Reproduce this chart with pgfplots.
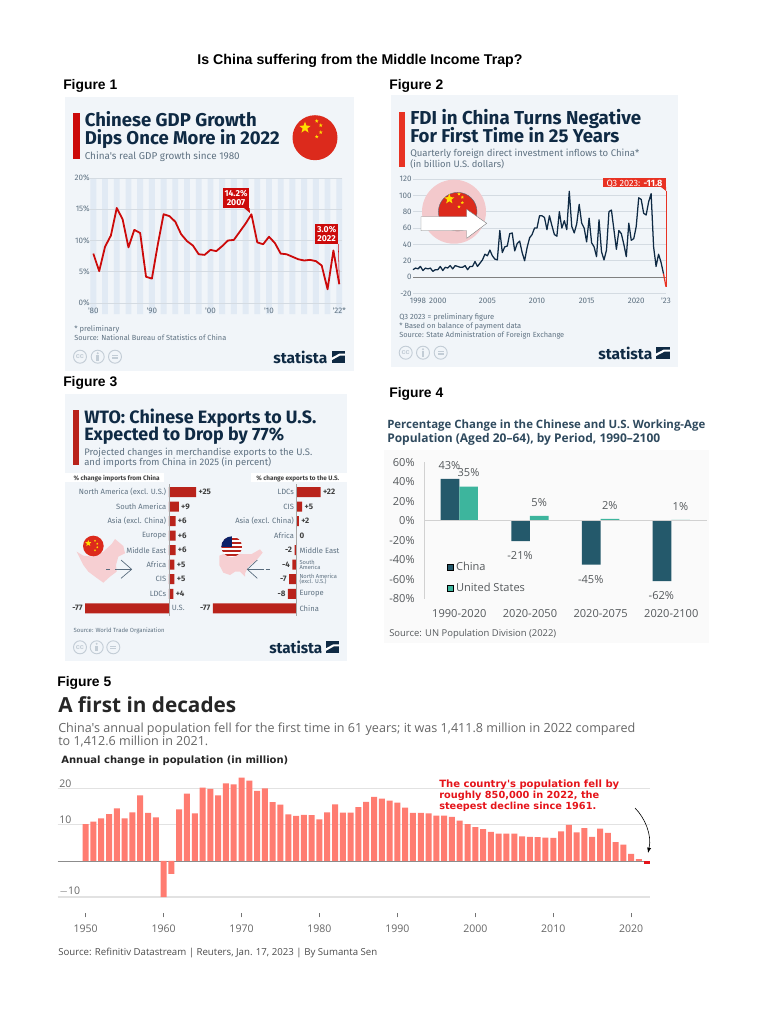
\documentclass[border=0pt]{standalone}
\usepackage{pgfplots}
\pgfplotsset{compat=1.18}
\usepackage{graphicx}
\usepackage{fontspec}
\usetikzlibrary{shapes.geometric,arrows.meta}
\setmainfont{Liberation Sans}
\newfontfamily\fira{Fira Sans}
\newfontfamily\deja{DejaVu Sans}
\newfontfamily\lato{Lato}
\newfontfamily\opens{Open Sans}
\definecolor{panel}{HTML}{F1F5F9}
\definecolor{stripe}{HTML}{E1EAF4}
\definecolor{navy}{HTML}{0F2A44}
\definecolor{sgray}{HTML}{5F7282}
\definecolor{sgrid}{HTML}{D4DBE2}
\definecolor{red1}{HTML}{CC0A0A}
\definecolor{red2}{HTML}{E83223}
\definecolor{red3}{HTML}{B9231B}
\definecolor{flagred}{HTML}{DC2A1C}
\definecolor{ystar}{HTML}{FFDE00}
\definecolor{pinkc}{HTML}{F3C9CC}
\definecolor{mappink}{HTML}{F6CFD2}
\definecolor{ccg}{HTML}{C3CDD6}
\definecolor{teal1}{HTML}{24596B}
\definecolor{teal2}{HTML}{3DB59D}
\definecolor{txt4}{HTML}{55595C}
\definecolor{title4}{HTML}{2F4A5E}
\definecolor{salmon}{HTML}{FF7C71}
\definecolor{red5}{HTML}{E5141A}
\definecolor{grid5}{HTML}{E2E2E2}
\definecolor{txt5}{HTML}{666666}
\newcommand{\fs}[1]{\fontsize{#1}{#1}\selectfont}
\tikzset{
  lab/.style={font=\fira\fs{5.7},text=sgray,inner sep=0pt},
  val/.style={font=\fira\bfseries\fs{6},text=black!75,inner sep=0pt},
  smalllab/.style={font=\fira\fs{4.3},text=sgray,inner sep=0pt,align=left},
  vfour/.style={font=\opens\fs{8.3},text=txt4,inner sep=0pt},
  bigstar/.style={star,star points=5,star point ratio=2.4,fill=ystar,inner sep=0pt,minimum size=#1}
}
% x, y (reference pixels), anchor, width in pixels, colour, text
\newcommand{\T}[6]{\node[anchor=#3,inner sep=0pt,text=#5] at (#1,#2) {\resizebox{\dimexpr #4pt*3/4\relax}{!}{#6}};}
\newcommand{\cc}[4]{%
  \draw[ccg,line width=.7pt] (#1,#4) circle (6.5);
  \draw[ccg,line width=.7pt] (#2,#4) circle (6.5);
  \draw[ccg,line width=.7pt] (#3,#4) circle (6.5);
  \node[text=ccg,inner sep=0pt] at (#1,#4) {\fs{5.5}\bfseries cc};
  \fill[ccg] (#2,#4-3.5) circle (1.1);
  \fill[ccg] (#2-1.3,#4-1.8) rectangle (#2+1.3,#4+4);
  \fill[ccg] (#3-3,#4-1.6) rectangle (#3+3,#4-.5);
  \fill[ccg] (#3-3,#4+.7) rectangle (#3+3,#4+1.8);
}
\newcommand{\stat}[5]{% left, width, logo left, logo width, y
  \node[anchor=base west,inner sep=0pt,text=navy] at (#1,#5+6.3) {\resizebox{\dimexpr #2pt*3/4\relax}{9.3pt}{\fira\bfseries statista}};
  \fill[navy] (#3,#5-6) rectangle (#3+#4,#5+6);
  \fill[white] (#3,#5+1) -- (#3+#4*.55,#5-3) -- (#3+#4,#5-3) -- (#3+#4,#5-1) -- (#3+#4*.6,#5-1) -- (#3,#5+3.5) -- cycle;
}
\begin{document}
\begin{tikzpicture}[x=.75pt,y=-.75pt]
\fill[white] (0,0) rectangle (768,1024);
\useasboundingbox (0,0) rectangle (768,1024);
% headings
\T{360}{60.5}{mid}{325}{black}{\bfseries Is China suffering from the Middle Income Trap?}
\T{63}{86}{mid west}{54}{black}{\bfseries Figure 1}
\T{389}{86}{mid west}{54}{black}{\bfseries Figure 2}
\T{63}{383}{mid west}{54}{black}{\bfseries Figure 3}
\T{389}{393.5}{mid west}{54}{black}{\bfseries Figure 4}
\T{57}{682.5}{mid west}{54}{black}{\bfseries Figure 5}

% ============ FIGURE 1
\fill[panel] (65,97) rectangle (354,371);
\fill[red1] (73.3,113) rectangle (80,159);
\T{84.5}{123}{mid west}{172}{navy}{\fira\bfseries Chinese GDP Growth}
\T{84.5}{140.7}{mid west}{195}{navy}{\fira\bfseries Dips Once More in 2022}
\T{84.5}{155.7}{mid west}{155}{sgray}{\fira China's real GDP growth since 1980}
\fill[flagred] (315,137.7) circle (22.5);
\node[bigstar=9pt] at (305,127.7) {};
\foreach \a/\b in {316.7/121,320.7/125.3,320.7/132.3,316.7/136.7}
  \node[bigstar=3pt] at (\a,\b) {};
\coordinate (f1) at (90.4,303);
\begin{axis}[at={(f1)},anchor=south west,scale only axis,width=188.85pt,height=93.75pt,
  xmin=1979.5,xmax=2022.5,ymin=0,ymax=20,clip=false,hide axis]
\addplot[ybar,bar width=4.39pt,bar shift=0pt,draw=none,fill=stripe] coordinates {(1980,20)(1982,20)(1984,20)(1986,20)(1988,20)(1990,20)(1992,20)(1994,20)(1996,20)(1998,20)(2000,20)(2002,20)(2004,20)(2006,20)(2008,20)(2010,20)(2012,20)(2014,20)(2016,20)(2018,20)(2020,20)(2022,20)};
\addplot[ybar,bar width=4.39pt,bar shift=0pt,draw=none,fill=stripe] coordinates {(1980,-1.76)(1982,-1.76)(1984,-1.76)(1986,-1.76)(1988,-1.76)(1990,-1.76)(1992,-1.76)(1994,-1.76)(1996,-1.76)(1998,-1.76)(2000,-1.76)(2002,-1.76)(2004,-1.76)(2006,-1.76)(2008,-1.76)(2010,-1.76)(2012,-1.76)(2014,-1.76)(2016,-1.76)(2018,-1.76)(2020,-1.76)(2022,-1.76)};
\end{axis}
\begin{axis}[at={(f1)},anchor=south west,scale only axis,width=188.85pt,height=93.75pt,
  xmin=1979.5,xmax=2022.5,ymin=0,ymax=20,clip=false,
  axis line style={draw=none},major tick length=0pt,
  ytick={0,5,10,15,20},yticklabels={0\%,5\%,10\%,15\%,20\%},
  xtick={1980,1990,2000,2010,2022},xticklabels={'80,'90,'00,'10,'22*},
  ymajorgrids,grid style={sgrid,line width=.6pt},
  tick label style={font=\fira\fs{6},text=sgray},
  yticklabel style={xshift=3pt},xticklabel style={yshift=0pt}]
\addplot[red1,line width=1.35pt,line join=round,mark=none] coordinates {
(1980,7.9)(1981,5.1)(1982,9.0)(1983,10.8)(1984,15.2)(1985,13.4)(1986,8.9)(1987,11.7)(1988,11.2)(1989,4.2)
(1990,3.9)(1991,9.3)(1992,14.2)(1993,13.9)(1994,13.0)(1995,11.0)(1996,9.9)(1997,9.2)(1998,7.8)(1999,7.7)
(2000,8.5)(2001,8.3)(2002,9.1)(2003,10.0)(2004,10.1)(2005,11.4)(2006,12.7)(2007,14.2)(2008,9.7)(2009,9.4)
(2010,10.6)(2011,9.6)(2012,7.9)(2013,7.8)(2014,7.4)(2015,7.0)(2016,6.8)(2017,6.9)(2018,6.7)(2019,6.0)
(2020,2.2)(2021,8.4)(2022,3.0)};
\end{axis}
\fill[red1] (222.7,188.3) rectangle (249.3,208.3);
\fill[red1] (244,208) -- (249.5,208) -- (250,213) -- cycle;
\node[text=white,inner sep=0pt] at (236,193.5) {\fira\fs{6.5}\bfseries 14.2\%};
\node[text=white,inner sep=0pt] at (236,203) {\fira\fs{6.5}\bfseries 2007};
\fill[red1] (315,224.3) rectangle (338.3,244.3);
\draw[red1,line width=.4pt] (338.3,244) -- (339.3,282);
\node[text=white,inner sep=0pt] at (326.7,229.5) {\fira\fs{6.5}\bfseries 3.0\%};
\node[text=white,inner sep=0pt] at (326.7,239) {\fira\fs{6.5}\bfseries 2022};
\T{74}{327.7}{mid west}{45}{sgray}{\fira * preliminary}
\T{74}{337.3}{mid west}{152}{sgray}{\fira Source: National Bureau of Statistics of China}
\cc{80}{97.7}{115}{356.7}
\stat{273}{54}{331.7}{13.5}{356.7}

% ============ FIGURE 2
\fill[panel] (391,95) rectangle (678,367);
\fill[red2] (399,111.7) rectangle (405,167.3);
\T{410}{121}{mid west}{231}{navy}{\fira\bfseries FDI in China Turns Negative}
\T{410}{138.7}{mid west}{209}{navy}{\fira\bfseries For First Time in 25 Years}
\T{410}{153.3}{mid west}{229}{sgray}{\fira Quarterly foreign direct investment inflows to China*}
\T{410}{164}{mid west}{94}{sgray}{\fira (in billion U.S. dollars)}
\coordinate (f2) at (413,293.4);
\begin{axis}[at={(f2)},anchor=south west,scale only axis,width=189.75pt,height=85.8pt,
  xmin=0,xmax=102,ymin=-20,ymax=120,clip=false,
  axis line style={draw=none},major tick length=0pt,
  ytick={-20,0,...,120},yticklabels={-20,0,20,40,60,80,100,120},
  xtick={2,10,30,50,70,90,102},xticklabels={1998,2000,2005,2010,2015,2020,'23},
  ymajorgrids,grid style={sgrid,line width=.6pt},
  tick label style={font=\fira\fs{6},text=sgray},
  yticklabel style={xshift=2.5pt},xticklabel style={yshift=0pt},
  extra y ticks={0},extra y tick labels={},extra y tick style={grid style={gray,line width=.6pt}}]
\end{axis}
\fill[pinkc] (454,211.7) circle (32);
\fill[flagred] (457.7,211.7) circle (19.3);
\draw[navy!70,line width=.3pt] (457.7,211.7) circle (19.3);
\node[bigstar=8pt] at (449.3,199) {};
\foreach \a/\b in {459/194,462.3/197.3,462.3/202.7,459/206.7}
  \node[bigstar=2.6pt] at (\a,\b) {};
\fill[white,draw=black!50,line width=.3pt] (421,216.7) -- (466.7,216.7) -- (466.7,209.3) -- (486.7,223.3) -- (466.7,238.3) -- (466.7,230.7) -- (421,230.7) -- cycle;
\begin{axis}[at={(f2)},anchor=south west,scale only axis,width=189.75pt,height=85.8pt,
  xmin=0,xmax=102,ymin=-20,ymax=120,clip=false,hide axis]
\addplot[navy,line width=.95pt,line join=round,mark=none] coordinates {
(0,9)(1,11)(2,10)(3,13)(4,8)(5,11)(6,10)(7,11)(8,7)(9,9)(10,9)(11,13)(12,8)(13,12)(14,11)(15,14)(16,10)(17,14)(18,13)(19,12)
(20,12)(21,14)(22,9)(23,13)(24,13)(25,19)(26,13)(27,17)(28,21)(29,28)(30,26)(31,33)(32,26)(33,22)(34,21)(35,57)(36,30)(37,37)(38,38)(39,53)
(40,54)(41,32)(42,41)(43,44)(44,30)(45,20)(46,36)(47,48)(48,52)(49,60)(50,60)(51,75)(52,75)(53,73)(54,58)(55,75)(56,63)(57,52)(58,50)(59,80)
(60,60)(61,69)(62,58)(63,105)(64,62)(65,54)(66,65)(67,89)(68,66)(69,60)(70,43)(71,72)(72,42)(73,37)(74,25)(75,70)(76,31)(77,21)(78,33)(79,80)
(80,82)(81,58)(82,34)(83,57)(84,53)(85,40)(86,25)(87,66)(88,45)(89,47)(90,62)(91,97)(92,95)(93,78)(94,76)(95,92)(96,102)(97,37)(98,13)(99,28)
(100,18)(101,4)};
\addplot[red2,line width=.95pt,mark=none] coordinates {(101,4)(102,-11.8)};
\draw[red2,line width=.3pt] (axis cs:102,105) -- (axis cs:102,-11.8);
\end{axis}
\fill[red2] (603,177.7) rectangle (666,187.3);
\fill[red2] (661,187) -- (666,187) -- (666,191) -- cycle;
\T{634.5}{182.5}{mid}{56}{white}{\fira Q3 2023: \textbf{-11.8}}
\T{399}{315.7}{mid west}{95}{sgray}{\fira Q3 2023 = preliminary figure}
\T{399}{324.5}{mid west}{122}{sgray}{\fira * Based on balance of payment data}
\T{399}{333.7}{mid west}{165}{sgray}{\fira Source: State Administration of Foreign Exchange}
\cc{405.7}{423}{440.7}{352.7}
\stat{598}{54}{655.7}{14.3}{352.7}

% ============ FIGURE 3
\fill[panel] (65,394) rectangle (347,661);
\fill[red3] (73.3,410) rectangle (79.3,465);
\T{84}{419.7}{mid west}{232}{navy}{\fira\bfseries WTO: Chinese Exports to U.S.}
\T{84}{437.3}{mid west}{200}{navy}{\fira\bfseries Expected to Drop by 77\%}
\T{84}{451.7}{mid west}{228}{sgray}{\fira Projected changes in merchandise exports to the U.S.}
\T{84}{462}{mid west}{187}{sgray}{\fira and imports from China in 2025 (in percent)}
\fill[white] (65,473.3) rectangle (164,481.7);
\fill[white] (250.7,473.3) rectangle (347,481.7);
\T{73.3}{477.3}{mid west}{86}{black!75}{\fira\bfseries \% change imports from China}
\T{256}{477.3}{mid west}{83}{black!75}{\fira\bfseries \% change exports to the U.S.}
\begin{scope}[shift={(60,390)},x=.25pt,y=-.25pt]
\fill[mappink] (50,485)--(70,497)--(100,500)--(130,485)--(155,462)--(165,447)--(190,468)--(195,490)--(175,500)--(168,525)--(170,545)--(150,560)--(130,578)--(105,560)--(85,545)--(70,525)--cycle;
\fill[flagred] (100,468) circle (31);
\fill[mappink] (478,497)--(495,490)--(545,492)--(575,492)--(600,478)--(608,488)--(590,510)--(565,530)--(555,550)--(555,560)--(540,545)--(525,545)--(510,555)--(490,548)--(478,525)--cycle;
\begin{scope}
\clip (515,470) circle (31);
\fill[white] (484,439) rectangle (546,501);
\foreach \q in {443,455,467,479,491} \fill[red3] (484,\q) rectangle (546,\q+6);
\fill[navy!80!blue] (484,439) rectangle (515,470);
\end{scope}
\draw[navy!70,line width=.5pt,dashed] (138,538) -- (160,538);
\draw[navy!70,line width=.5pt] (165,538) -- (215,538);
\draw[navy!70,line width=.5pt] (183,510) -- (215,538) -- (183,565);
\draw[navy!70,line width=.5pt] (562,538) -- (612,538);
\draw[navy!70,line width=.5pt,dashed] (617,538) -- (638,538);
\draw[navy!70,line width=.5pt] (592,510) -- (562,538) -- (592,565);
\end{scope}
\node[bigstar=5pt] at (88.3,543.3) {};
\foreach \a/\b in {95/540.7,97.3/543.7,97.3/547.3,95/550.3}
  \node[bigstar=1.8pt] at (\a,\b) {};
\coordinate (f3a) at (81.8,615.5);
\coordinate (f3b) at (209.5,615.5);
\begin{axis}[at={(f3a)},anchor=south west,scale only axis,width=89.9pt,height=97.9pt,
  xmin=-80,xmax=30,ymin=-.5,ymax=8.5,y dir=reverse,hide axis,clip=false]
\addplot[xbar,bar width=7.5pt,bar shift=0pt,draw=none,fill=red3] coordinates {(25,0)(9,1)(6,2)(6,3)(6,4)(5,5)(5,6)(4,7)(-77,8)};
\draw[black!35,line width=.5pt] (axis cs:0,-.55) -- (axis cs:0,8.55);
\node[lab,anchor=east] at (axis cs:-2.3,0) {North America (excl. U.S.)};
\node[lab,anchor=east] at (axis cs:-2.3,1) {South America};
\node[lab,anchor=east] at (axis cs:-2.3,2) {Asia (excl. China)};
\node[lab,anchor=east] at (axis cs:-2.3,3) {Europe};
\node[lab,anchor=east] at (axis cs:-2.3,4) {Middle East};
\node[lab,anchor=east] at (axis cs:-2.3,5) {Africa};
\node[lab,anchor=east] at (axis cs:-2.3,6) {CIS};
\node[lab,anchor=east] at (axis cs:-2.3,7) {LDCs};
\node[lab,anchor=west] at (axis cs:2.4,8) {U.S.};
\node[val,anchor=west] at (axis cs:27,0) {+25};
\node[val,anchor=west] at (axis cs:11,1) {+9};
\node[val,anchor=west] at (axis cs:8,2) {+6};
\node[val,anchor=west] at (axis cs:8,3) {+6};
\node[val,anchor=west] at (axis cs:8,4) {+6};
\node[val,anchor=west] at (axis cs:7,5) {+5};
\node[val,anchor=west] at (axis cs:7,6) {+5};
\node[val,anchor=west] at (axis cs:6,7) {+4};
\node[val,anchor=east] at (axis cs:-79,8) {-77};
\end{axis}
\begin{axis}[at={(f3b)},anchor=south west,scale only axis,width=89.9pt,height=97.9pt,
  xmin=-80,xmax=30,ymin=-.5,ymax=8.5,y dir=reverse,hide axis,clip=false]
\addplot[xbar,bar width=7.5pt,bar shift=0pt,draw=none,fill=red3] coordinates {(22,0)(5,1)(2,2)(0,3)(-2,4)(-4,5)(-7,6)(-8,7)(-77,8)};
\draw[black!35,line width=.5pt] (axis cs:0,-.55) -- (axis cs:0,8.55);
\node[lab,anchor=east] at (axis cs:-2.3,0) {LDCs};
\node[lab,anchor=east] at (axis cs:-2.3,1) {CIS};
\node[lab,anchor=east] at (axis cs:-2.3,2) {Asia (excl. China)};
\node[lab,anchor=east] at (axis cs:-2.3,3) {Africa};
\node[lab,anchor=west] at (axis cs:2.4,4) {Middle East};
\node[smalllab,anchor=west] at (axis cs:2.4,5) {South\\[-1pt]America};
\node[smalllab,anchor=west] at (axis cs:2.4,6) {North America\\[-1pt](excl. U.S.)};
\node[lab,anchor=west] at (axis cs:2.4,7) {Europe};
\node[lab,anchor=west] at (axis cs:2.4,8) {China};
\node[val,anchor=west] at (axis cs:24,0) {+22};
\node[val,anchor=west] at (axis cs:7,1) {+5};
\node[val,anchor=west] at (axis cs:4,2) {+2};
\node[val,anchor=west] at (axis cs:2.4,3) {0};
\node[val,anchor=east] at (axis cs:-4,4) {-2};
\node[val,anchor=east] at (axis cs:-6,5) {-4};
\node[val,anchor=east] at (axis cs:-9,6) {-7};
\node[val,anchor=east] at (axis cs:-10,7) {-8};
\node[val,anchor=east] at (axis cs:-79,8) {-77};
\end{axis}
\T{73.3}{628.7}{mid west}{91}{sgray}{\fira Source: World Trade Organization}
\cc{80}{96.7}{113.3}{647.3}
\stat{269}{53}{326}{13.3}{647.3}

% ============ FIGURE 4
\fill[black!2] (384,450) rectangle (709,643);
\T{387}{424.5}{mid west}{318}{title4}{\opens\bfseries Percentage Change in the Chinese and U.S. Working-Age}
\T{387}{439}{mid west}{273}{title4}{\opens\bfseries Population (Aged 20–64), by Period, 1990–2100}
\coordinate (f4) at (424,598.7);
\begin{axis}[at={(f4)},anchor=south west,scale only axis,width=211.95pt,height=102.3pt,
  xmin=-.5,xmax=3.5,ymin=-80,ymax=60,clip=false,
  axis line style={draw=none},major tick length=0pt,
  ytick={-80,-60,...,60},yticklabels={-80\%,-60\%,-40\%,-20\%,0\%,20\%,40\%,60\%},
  xtick={0,1,2,3},xticklabels={1990-2020,2020-2050,2020-2075,2020-2100},
  tick label style={font=\opens\fs{8.3},text=txt4},
  yticklabel style={xshift=-3.5pt},xticklabel style={yshift=-4.5pt},
  legend image code/.code={\draw[#1,bar shift=0pt] (0pt,-2.25pt) rectangle (4.5pt,2.25pt);},
  legend style={at={(.08,.29)},anchor=north west,draw=none,fill=none,font=\opens\fs{8.3},text=txt4,row sep=4pt,inner sep=0pt,
    /tikz/every even column/.append style={column sep=1pt}},
  legend cell align=left]
\addplot[ybar,bar width=14pt,bar shift=-7pt,draw=none,fill=teal1] coordinates {(0,43)(1,-21)(2,-45)(3,-62)};
\addlegendentry{China}
\addplot[ybar,bar width=14pt,bar shift=7pt,draw=none,fill=teal2] coordinates {(0,35)(1,5)(2,2)(3,1)};
\addlegendentry{United States}
\draw[black!18,line width=.6pt] (axis cs:-.5,0) -- (axis cs:3.5,0);
\draw[black!18,line width=.6pt] (axis cs:-.5,60) -- (axis cs:-.5,-80);
\node[vfour] at (axis cs:-.14,57) {43\%};
\node[vfour] at (axis cs:.13,49) {35\%};
\node[vfour] at (axis cs:1.13,19) {5\%};
\node[vfour] at (axis cs:2.13,16) {2\%};
\node[vfour] at (axis cs:3.13,14.5) {1\%};
\node[vfour] at (axis cs:.86,-36) {-21\%};
\node[vfour] at (axis cs:1.86,-60) {-45\%};
\node[vfour] at (axis cs:2.86,-77) {-62\%};
\end{axis}
\T{389}{633}{mid west}{167}{txt4}{\opens Source: UN Population Division (2022)}

% ============ FIGURE 5
\T{58}{708.5}{mid west}{178}{black!85}{\opens\bfseries A first in decades}
\T{58}{729}{mid west}{577}{txt5}{\opens China's annual population fell for the first time in 61 years; it was 1,411.8 million in 2022 compared}
\T{58}{742}{mid west}{150}{txt5}{\opens to 1,412.6 million in 2021.}
\T{61}{759.5}{mid west}{227}{black!85}{\deja\bfseries Annual change in population (in million)}
\coordinate (f5) at (57.6,913.3);
\begin{axis}[at={(f5)},anchor=south west,scale only axis,width=444.5pt,height=104.2pt,
  xmin=1946.4,xmax=2022.45,ymin=-14.5,ymax=24,clip=false,
  axis line style={draw=none},
  ytick={-10,10,20},yticklabels={$-$10,10,20},
  xtick={1950,1960,...,2020},xticklabels={1950,1960,1970,1980,1990,2000,2010,2020},
  ymajorgrids,grid style={grid5,line width=.9pt},
  y tick style={draw=none},x tick style={draw=black!55,line width=.6pt},
  tick align=outside,major tick length=3pt,xtick pos=bottom,ytick pos=left,
  tick label style={font=\opens\fs{7.9},text=txt5},
  yticklabel style={anchor=south west,xshift=.75pt,yshift=-2.5pt},
  xticklabel style={yshift=-2.5pt},
  extra y ticks={0},extra y tick labels={},extra y tick style={grid style={black!45,line width=.7pt}}]
\addplot[ybar,bar width=4.5pt,bar shift=0pt,draw=none,fill=salmon] coordinates {
(1950,10.2)(1951,10.9)(1952,11.8)(1953,13.0)(1954,14.6)(1955,11.8)(1956,13.5)(1957,18.2)(1958,13.3)(1959,12.1)
(1960,-10.0)(1961,-3.6)(1962,14.3)(1963,18.7)(1964,13.2)(1965,20.3)(1966,20.0)(1967,18.2)(1968,21.5)(1969,21.2)
(1970,23.1)(1971,22.3)(1972,19.4)(1973,20.1)(1974,16.3)(1975,15.6)(1976,12.9)(1977,12.5)(1978,12.8)(1979,12.7)
(1980,11.5)(1981,13.5)(1982,15.7)(1983,13.4)(1984,13.4)(1985,14.9)(1986,16.4)(1987,17.8)(1988,17.3)(1989,16.7)
(1990,16.2)(1991,14.8)(1992,13.3)(1993,13.3)(1994,13.2)(1995,12.6)(1996,12.6)(1997,12.2)(1998,11.2)(1999,10.2)
(2000,9.4)(2001,8.8)(2002,8.1)(2003,7.6)(2004,7.6)(2005,7.6)(2006,6.8)(2007,6.7)(2008,6.6)(2009,6.5)
(2010,6.4)(2011,8.2)(2012,10.0)(2013,7.9)(2014,9.1)(2015,6.7)(2016,9.0)(2017,7.8)(2018,5.2)(2019,4.5)
(2020,2.0)(2021,0.5)};
\addplot[ybar,bar width=4.5pt,bar shift=0pt,draw=none,fill=red5] coordinates {(2022,-0.85)};
\end{axis}
\T{439}{783.8}{mid west}{180}{red5}{\deja\bfseries The country's population fell by}
\T{439}{794.8}{mid west}{160}{red5}{\deja\bfseries roughly 850,000 in 2022, the}
\T{439}{805.8}{mid west}{157}{red5}{\deja\bfseries steepest decline since 1961.}
\draw[black,line width=.45pt,-{Latex[length=4pt,width=3pt]}] (635,808) .. controls (645,818) and (652,835) .. (648,853);
\T{58}{951.7}{mid west}{319}{black!70}{\opens Source: Refinitiv Datastream | Reuters, Jan. 17, 2023 | By Sumanta Sen}
\end{tikzpicture}
\end{document}
